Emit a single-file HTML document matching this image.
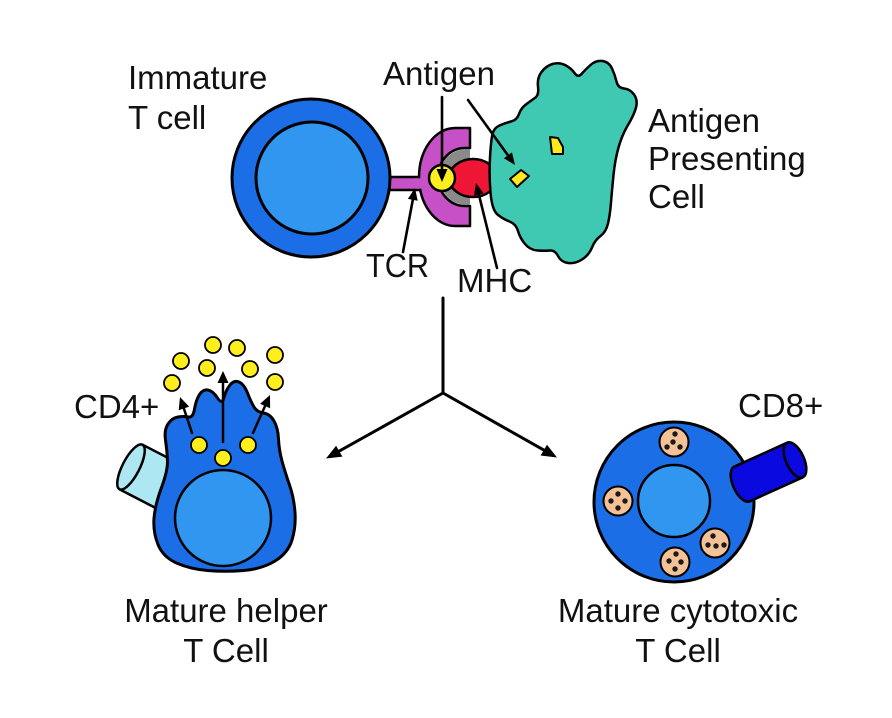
<!DOCTYPE html>
<html>
<head>
<meta charset="utf-8">
<style>
html,body{margin:0;padding:0;background:#fff;}
svg{display:block;}
text{font-family:"Liberation Sans",Arial,sans-serif;font-size:33px;fill:#111;}
</style>
</head>
<body>
<svg width="892" height="718" viewBox="0 0 892 718" xmlns="http://www.w3.org/2000/svg">
<rect width="892" height="718" fill="#fff"/>

<!-- ===== Immature T cell ===== -->
<rect x="380" y="177" width="42" height="13" fill="#c650c6" stroke="#000" stroke-width="2.5"/>
<circle cx="311" cy="178" r="79" fill="#1b6ee6" stroke="#000" stroke-width="3"/>
<circle cx="312" cy="178" r="56" fill="#3096f0" stroke="#000" stroke-width="3"/>

<!-- TCR cup -->
<path d="M 470,128 L 455,128 A 36,49 0 0 0 455,226 L 470,226 L 470,206 L 465,206 A 27,29 0 0 1 465,148 L 470,148 Z" fill="#c650c6" stroke="#000" stroke-width="2.5" stroke-linejoin="round"/>
<rect x="414" y="178.3" width="10" height="10.4" fill="#c650c6"/>
<!-- gray cavity -->
<path d="M 470,149.5 L 465,149.5 A 25.5,27.5 0 0 0 465,204.5 L 470,204.5 Z" fill="#8a8a8a"/>
<!-- MHC -->
<ellipse cx="473" cy="178" rx="24" ry="19" fill="#ee1535" stroke="#000" stroke-width="2.5"/>

<!-- APC blob -->
<path d="M 490,157.5 Q 491,140 492.5,134 Q 494,128 499.5,125.5 Q 505,123 511,121.5 Q 517,120 519,114 Q 521,108 526.5,104 Q 532,100 535.5,97.5 Q 539,95 538,86.5 Q 537,78 541.5,72 Q 546,66 552.5,64 Q 559,62 565,65 Q 571,68 574.5,73 Q 578,78 581.5,74 Q 585,70 590.5,65 Q 596,60 602.5,61 Q 609,62 612,68.5 Q 615,75 616.5,81.5 Q 618,88 624,88.5 Q 630,89 634,94.5 Q 638,100 636,107.5 Q 634,115 628,125 Q 622,135 618.5,147.5 Q 615,160 613.5,175 Q 612,190 611,202.5 Q 610,215 608,223.5 Q 606,232 600.5,236 Q 595,240 592,247.5 Q 589,255 582,259.5 Q 575,264 568,263 Q 561,262 558,256 Q 555,250 550,250.5 Q 545,251 537.5,250.5 Q 530,250 525,244 Q 520,238 518,231 Q 516,224 509.5,221.5 Q 503,219 497.5,214.5 Q 492,210 490.5,192.5 Q 489,175 490,157.5 Z" fill="#40c9b2" stroke="#000" stroke-width="2.5" stroke-linejoin="round"/>
<polygon points="510,179 521,170 529,176 517,187" fill="#ffe81e" stroke="#000" stroke-width="2" stroke-linejoin="round"/>
<polygon points="550,137 558,138 563,147 563,154 552,154" fill="#ffe81e" stroke="#000" stroke-width="2" stroke-linejoin="round"/>

<!-- antigen bound -->
<circle cx="442" cy="178" r="13" fill="#ffee1e" stroke="#000" stroke-width="2.5"/>

<!-- top arrows -->
<g stroke="#000" stroke-width="2.6" fill="none" stroke-linecap="round">
  <line x1="442" y1="97" x2="442" y2="172"/>
  <line x1="468" y1="100" x2="509.1" y2="156.9"/>
  <line x1="403" y1="252" x2="413.2" y2="197.8"/>
  <line x1="497" y1="268" x2="478.4" y2="192.7"/>
</g>
<g fill="#000">
  <polygon points="442,182 436.5,169 447.5,169"/>
  <polygon points="515,165 512,152.35 503.9,158.2"/>
  <polygon points="415,188 417.7,200.7 407.9,198.9"/>
  <polygon points="476,183 483.7,193.4 474,195.8"/>
</g>

<!-- central branching arrows -->
<g stroke="#000" stroke-width="3" fill="none" stroke-linecap="round" stroke-linejoin="round">
  <polyline points="443,298 443,393 337.5,452.1"/>
  <line x1="443" y1="393" x2="545.6" y2="451.1"/>
</g>
<g fill="#000">
  <polygon points="326,458.5 342.4,456.6 336.1,445.7"/>
  <polygon points="557,457.5 540.6,455.5 547,444.7"/>
</g>

<!-- ===== Helper T cell ===== -->
<!-- CD4 cylinder -->
<polygon points="142.5,444.7 182.5,465.4 159.5,510 119.5,489.3" fill="#ade7f1"/>
<line x1="142.5" y1="444.7" x2="182.5" y2="465.4" stroke="#000" stroke-width="2.5"/>
<line x1="119.5" y1="489.3" x2="159.5" y2="510" stroke="#000" stroke-width="2.5"/>
<ellipse cx="131" cy="467" rx="25" ry="8.5" transform="rotate(117.3 131 467)" fill="#ade7f1" stroke="#000" stroke-width="2.5"/>

<path d="M 167.5,460 Q 167,450 165.5,440 Q 164,430 168,424 Q 172,418 178,417 Q 184,416 188.5,417 Q 193,418 194.5,409 Q 196,400 199.5,394.5 Q 203,389 208,390 Q 213,391 217.5,398 Q 222,405 224,397.5 Q 226,390 230,385 Q 234,380 239,382 Q 244,384 247.5,393 Q 251,402 254,407 Q 257,412 263.5,413 Q 270,414 274,421 Q 278,428 278.5,439 Q 279,450 282,461 Q 285,472 289.5,485 Q 294,498 295,512.5 Q 296,527 292,540 Q 288,553 275,561 Q 262,569 243.5,570.5 Q 225,572 207.5,570.5 Q 190,569 176.5,563 Q 163,557 158,544.5 Q 153,532 154,518.5 Q 155,505 161.5,487.5 Q 168,470 167.5,460 Z" fill="#1b6ee6" stroke="#000" stroke-width="3" stroke-linejoin="round"/>
<circle cx="223" cy="518" r="48" fill="#3096f0" stroke="#000" stroke-width="2.5"/>

<g fill="#ffee1e" stroke="#000" stroke-width="1.8">
  <circle cx="199" cy="445" r="8"/>
  <circle cx="223" cy="458" r="8"/>
  <circle cx="248" cy="445" r="8"/>
  <circle cx="181" cy="361" r="8"/>
  <circle cx="213" cy="345" r="8"/>
  <circle cx="237" cy="348" r="8"/>
  <circle cx="275" cy="355" r="8"/>
  <circle cx="172" cy="383" r="8"/>
  <circle cx="207" cy="368" r="8"/>
  <circle cx="250" cy="369" r="8"/>
  <circle cx="275" cy="382" r="8"/>
</g>
<g stroke="#000" stroke-width="2.5" fill="none" stroke-linecap="round">
  <line x1="192" y1="433" x2="183.2" y2="406.5"/>
  <line x1="223" y1="442" x2="223" y2="381"/>
  <line x1="253" y1="433" x2="265.9" y2="404.1"/>
</g>
<g fill="#000">
  <polygon points="180,397 189.1,406.6 178.7,410.2"/>
  <polygon points="223,371 217.5,383 228.5,383"/>
  <polygon points="270,395 270.1,408.2 260.1,403.7"/>
</g>

<!-- ===== Cytotoxic T cell ===== -->
<circle cx="674" cy="502" r="80" fill="#1b6ee6" stroke="#000" stroke-width="3"/>
<circle cx="674" cy="501" r="36" fill="#3096f0" stroke="#000" stroke-width="2.5"/>
<g fill="#f5c197" stroke="#000" stroke-width="2">
  <circle cx="674" cy="442" r="14.5"/>
  <circle cx="618" cy="501" r="14.5"/>
  <circle cx="715" cy="543" r="14.5"/>
  <circle cx="675" cy="562" r="14.5"/>
</g>
<g fill="#1a1a1a">
  <circle cx="675" cy="434" r="2.7"/><circle cx="673" cy="442" r="2.7"/><circle cx="667" cy="447" r="2.7"/><circle cx="680" cy="447" r="2.7"/>
  <circle cx="618" cy="494" r="2.7"/><circle cx="611" cy="501" r="2.7"/><circle cx="625" cy="501" r="2.7"/><circle cx="618" cy="508" r="2.7"/>
  <circle cx="713" cy="536" r="2.7"/><circle cx="708" cy="545" r="2.7"/><circle cx="716" cy="546" r="2.7"/><circle cx="724" cy="545" r="2.7"/>
  <circle cx="676" cy="554" r="2.7"/><circle cx="669" cy="561" r="2.7"/><circle cx="681" cy="562" r="2.7"/><circle cx="675" cy="569" r="2.7"/>
</g>

<!-- CD8 cylinder -->
<ellipse cx="742" cy="484" rx="19" ry="9" transform="rotate(65.7 742 484)" fill="#0a0ae0" stroke="#000" stroke-width="2.5"/>
<polygon points="734.2,466.7 787.2,442.7 802.8,477.3 749.8,501.3" fill="#0a0ae0"/>
<line x1="734.2" y1="466.7" x2="787.2" y2="442.7" stroke="#000" stroke-width="2.5"/>
<line x1="749.8" y1="501.3" x2="802.8" y2="477.3" stroke="#000" stroke-width="2.5"/>
<ellipse cx="795" cy="460" rx="19" ry="9" transform="rotate(65.7 795 460)" fill="#0a0ae0" stroke="#000" stroke-width="2.5"/>

<!-- ===== Labels ===== -->
<text x="128" y="89">Immature</text>
<text x="128" y="129">T cell</text>
<text x="383" y="85">Antigen</text>
<text x="648" y="132">Antigen</text>
<text x="648" y="170">Presenting</text>
<text x="648" y="208">Cell</text>
<text x="366" y="277" textLength="63" lengthAdjust="spacingAndGlyphs">TCR</text>
<text x="457" y="292">MHC</text>
<text x="74" y="418">CD4+</text>
<text x="738" y="417">CD8+</text>
<text x="226" y="622" text-anchor="middle">Mature helper</text>
<text x="226" y="662" text-anchor="middle">T Cell</text>
<text x="678" y="622" text-anchor="middle">Mature cytotoxic</text>
<text x="678" y="662" text-anchor="middle">T Cell</text>
</svg>
</body>
</html>
